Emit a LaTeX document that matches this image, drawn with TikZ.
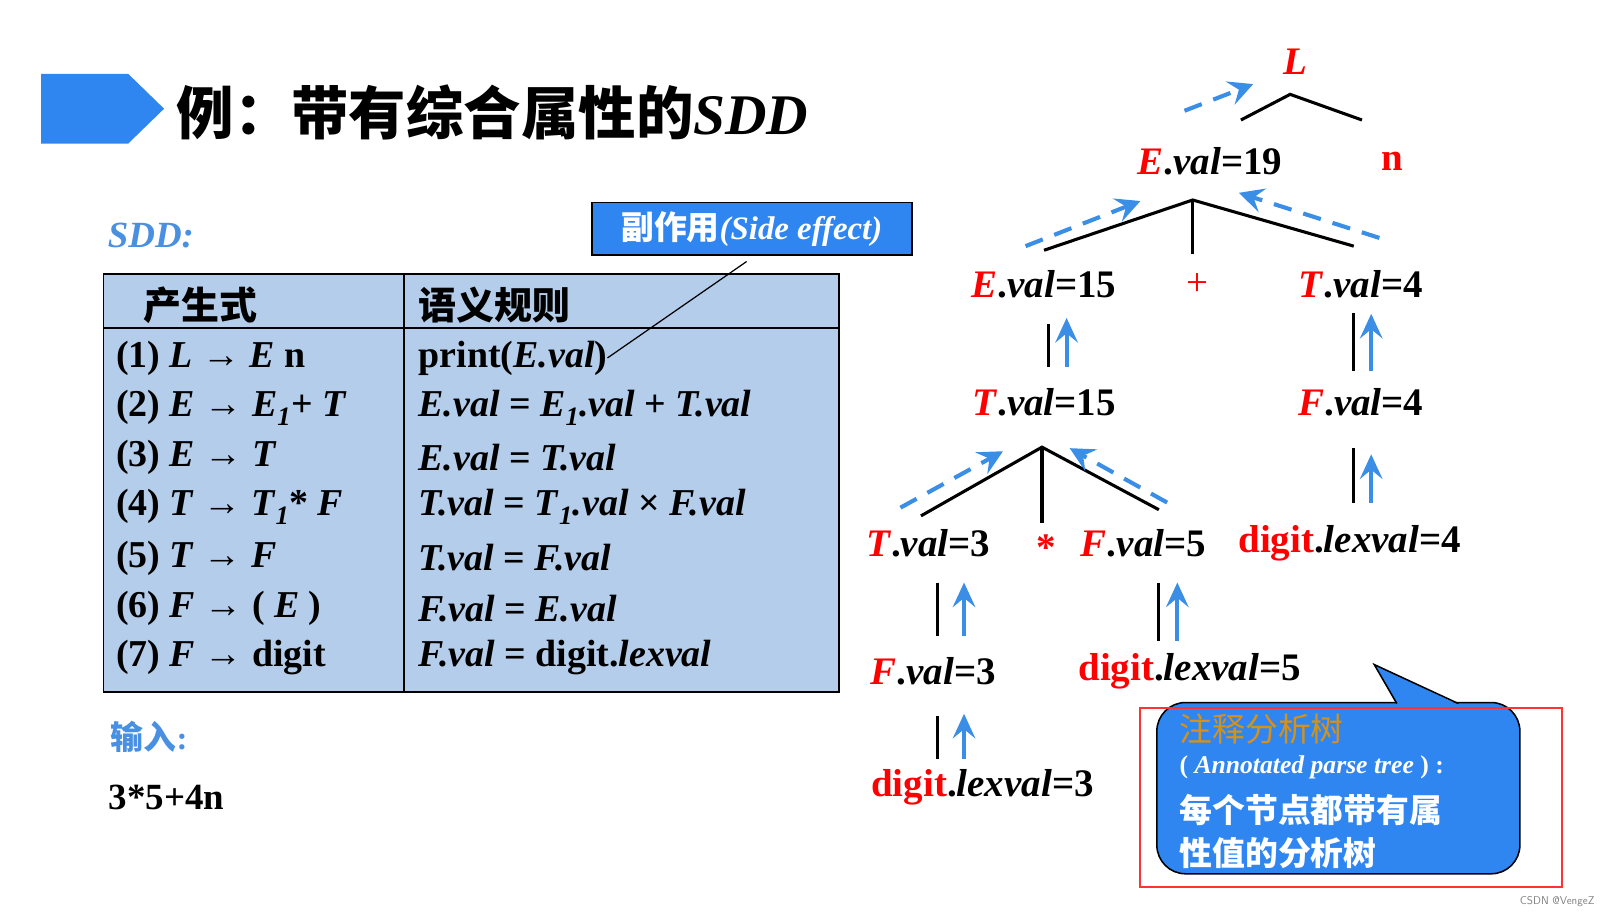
\documentclass[tikz,border=0pt]{standalone}
\usepackage{fontspec}
\setmainfont{Liberation Serif}
\newfontfamily\cjk{Noto Sans CJK SC}
\usetikzlibrary{arrows.meta}
\definecolor{myblue}{HTML}{2F86F0}
\definecolor{arrblue}{HTML}{3A8EE6}
\definecolor{tabfill}{HTML}{B4CDEA}
\definecolor{sddblue}{HTML}{4A90E2}
\definecolor{orng}{HTML}{D4921A}
\newcommand{\rv}[2]{\textcolor{red}{\textit{#1}}.\textit{val}=#2}
\newcommand{\dg}[1]{\textcolor{red}{digit}.\textit{lexval}=#1}
\newcommand{\one}{\textsubscript{\textit{1}}}
\begin{document}
\begin{tikzpicture}[x=1pt,y=-1pt,
  lbl/.style={font=\fontsize{38}{40}\selectfont\bfseries,inner sep=0pt},
  tab/.style={font=\fontsize{37}{40}\selectfont\bfseries,anchor=west,inner sep=0pt},
  edge/.style={line width=3pt,black},
  dasharr/.style={arrblue,line width=4pt,dash pattern=on 18pt off 12pt,-{Stealth[length=24pt,width=24pt,inset=9pt]}},
  uparr/.style={arrblue,line width=4pt,-{Stealth[length=24pt,width=22pt,inset=9pt]}},
  bar/.style={line width=3pt,black}]
\useasboundingbox (0,0) rectangle (1565,892);
% title
\fill[myblue] (40,72) -- (125,72) -- (160,106) -- (125,140) -- (40,140) -- cycle;
\node[anchor=west,inner sep=0pt,font=\fontsize{56}{60}\selectfont] (title) at (172,110) {{\cjk\bfseries 例：带有综合属性的}\textbf{\textit{SDD}}};
\node[anchor=west,inner sep=0pt,text=sddblue,font=\fontsize{36}{40}\selectfont\bfseries\itshape] (sdd) at (105,230) {SDD:};
\node[draw=black,line width=1.5pt,fill=myblue,text=white,minimum width=312pt,minimum height=51pt,inner sep=0pt,font=\fontsize{32}{36}\selectfont] (side) at (733,223) {{\cjk\bfseries 副作用}\textbf{\textit{(Side effect)}}};
% table
\draw[fill=tabfill,line width=1.5pt] (101,267) rectangle (818,675);
\draw[line width=1.5pt] (394,267) -- (394,675);
\draw[line width=1.5pt] (101,320) -- (818,320);
\node[tab] (h1) at (140,298) {{\cjk 产生式}};
\node[tab] (h2) at (408,298) {{\cjk 语义规则}};
\node[tab] (p1) at (113,349) {(1) \textit{L} → \textit{E} n};
\node[tab] (p2) at (113,398) {(2) \textit{E} → \textit{E}\one+ \textit{T}};
\node[tab] (p3) at (113,446) {(3) \textit{E} → \textit{T}};
\node[tab] (p4) at (113,494) {(4) \textit{T} → \textit{T}\one* \textit{F}};
\node[tab] (p5) at (113,544) {(5) \textit{T} → \textit{F}};
\node[tab] (p6) at (113,593) {(6) \textit{F} → ( \textit{E} )};
\node[tab] (p7) at (113,641) {(7) \textit{F} → digit};
\node[tab] (r1) at (408,349) {print(\textit{E.val})};
\node[tab] (r2) at (408,398) {\textit{E.val} = \textit{E}\one\textit{.val} + \textit{T.val}};
\node[tab] (r3) at (408,446) {\textit{E.val} = \textit{T.val}};
\node[tab] (r4) at (408,494) {\textit{T.val} = \textit{T}\one\textit{.val} × \textit{F.val}};
\node[tab] (r5) at (408,544) {\textit{T.val} = \textit{F.val}};
\node[tab] (r6) at (408,593) {\textit{F.val} = \textit{E.val}};
\node[tab] (r7) at (408,641) {\textit{F.val} = digit.\textit{lexval}};
\coordinate (sidefoot) at (728,255);
\draw[line width=1.2pt] (sidefoot) -- (r1.east);
\node[anchor=west,inner sep=0pt,text=sddblue,font=\fontsize{32}{36}\selectfont\bfseries] (inp) at (108,718) {{\cjk 输入}:};
\node[anchor=west,inner sep=0pt,font=\fontsize{36}{40}\selectfont\bfseries] (in) at (106,778) {3*5+4n};
% tree
\node[lbl,text=red] (L) at (1263,60) {\textit{L}};
\node[lbl] (E19) at (1180,157) {\rv{E}{19}};
\node[lbl,text=red] (n) at (1358,157) {n};
\node[lbl] (E15) at (1018,277) {\rv{E}{15}};
\node[lbl,text=red,font=\fontsize{38}{40}\selectfont] (plus) at (1168,277) {+};
\node[lbl] (T4) at (1327,277) {\rv{T}{4}};
\node[lbl] (T15) at (1018,392) {\rv{T}{15}};
\node[lbl] (F4) at (1327,392) {\rv{F}{4}};
\node[lbl] (T3) at (905,530) {\rv{T}{3}};
\node[lbl,text=red] (star) at (1020,534) {*};
\node[lbl] (F5) at (1115,530) {\rv{F}{5}};
\node[lbl] (d4) at (1316,530) {\dg{4}};
\node[lbl] (F3) at (910,655) {\rv{F}{3}};
\node[lbl] (d5) at (1160,655) {\dg{5}};
\node[lbl] (d3) at (958,768) {\dg{3}};
% tree edges
\coordinate (La) at (1258,92);
\draw[edge] (1210,117) -- (La) -- (1328,117);
\coordinate (Ea) at (1163,195);
\draw[edge] (1018,244) -- (Ea) -- (1320,240);
\draw[edge] (Ea) -- (1163,248);
\coordinate (Ta) at (1016,436);
\draw[edge] (898,503) -- (Ta) -- (1130,497);
\draw[edge] (Ta) -- (1016,510);
% dashed arrows
\draw[dasharr] (1155,108) -- (1222,82);
\draw[dasharr] (1000,240) -- (1112,196);
\draw[dasharr] (1345,232) -- (1208,188);
\draw[dasharr] (878,495) -- (978,440);
\draw[dasharr] (1138,490) -- (1043,437);
% vertical bars and arrows
\draw[bar] (1022,316) -- (1022,358); \draw[uparr] (1040,358) -- (1040,310);
\draw[bar] (1320,305) -- (1320,362); \draw[uparr] (1337,362) -- (1337,306);
\draw[bar] (1320,437) -- (1320,490); \draw[uparr] (1337,490) -- (1337,443);
\draw[bar] (914,568) -- (914,620); \draw[uparr] (940,620) -- (940,568);
\draw[bar] (1130,568) -- (1130,625); \draw[uparr] (1148,625) -- (1148,568);
\draw[bar] (914,698) -- (914,740); \draw[uparr] (940,740) -- (940,696);
% callout
\draw[fill=myblue,line width=1.5pt,rounded corners=28pt] (1365,685) -- (1482,685) -- (1482,852) -- (1128,852) -- (1128,685) -- (1365,685);
\fill[myblue] (1362,687) -- (1340,648) -- (1422,687) -- cycle;
\draw[line width=1.5pt] (1362,686) -- (1340,648) -- (1422,686);
\draw[red!80!white,line width=2pt] (1112,690) rectangle (1523,865);
\node[anchor=west,inner sep=0pt,text=orng,font=\fontsize{32}{36}\selectfont\cjk] (c1) at (1150,711) {注释分析树};
\node[anchor=west,inner sep=0pt,text=white,font=\fontsize{25}{28}\selectfont\bfseries] (c2) at (1150,748) {( \textit{Annotated parse tree} ) :};
\node[anchor=west,inner sep=0pt,text=white,font=\fontsize{32}{36}\selectfont\cjk\bfseries] (c3) at (1150,790) {每个节点都带有属};
\node[anchor=west,inner sep=0pt,text=white,font=\fontsize{32}{36}\selectfont\cjk\bfseries] (c4) at (1150,832) {性值的分析树};
\node[anchor=east,inner sep=0pt,text=gray,font=\fontsize{11}{12}\selectfont\sffamily] (wm) at (1555,879) {CSDN @VengeZ};
\end{tikzpicture}
\end{document}
